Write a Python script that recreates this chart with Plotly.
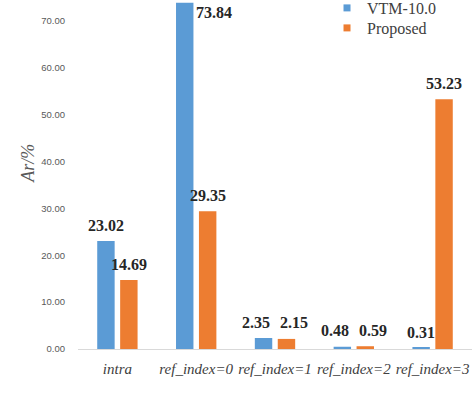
import plotly.graph_objects as go

categories = ["intra", "ref_index=0", "ref_index=1", "ref_index=2", "ref_index=3"]
vtm_values = [23.02, 73.84, 2.35, 0.48, 0.31]
proposed_values = [14.69, 29.35, 2.15, 0.59, 53.23]
series_names = ["VTM-10.0", "Proposed"]
y_ticks = [0, 10, 20, 30, 40, 50, 60, 70]
y_tick_labels = ["0.00", "10.00", "20.00", "30.00", "40.00", "50.00", "60.00", "70.00"]
y_title = "Ar/%"

BLUE = "#5B9BD5"
ORANGE = "#ED7D31"
Y_MAX = 74.4
PLOT_H = 349
PLOT_W = 395
SERIF = "Liberation Serif, Times New Roman, serif"
LABEL_FONT = dict(family=SERIF, size=16, color="#262626", weight="bold")

fig = go.Figure()
fig.add_trace(go.Bar(x=categories, y=vtm_values, name=series_names[0], showlegend=False,
                     marker=dict(color=BLUE, line=dict(width=0))))
fig.add_trace(go.Bar(x=categories, y=proposed_values, name=series_names[1], showlegend=False,
                     marker=dict(color=ORANGE, line=dict(width=0))))
# legend entries with small square swatches
fig.add_trace(go.Scatter(x=[None], y=[None], mode="markers", name=series_names[0],
                         marker=dict(symbol="square", size=7, color=BLUE), legend="legend"))
fig.add_trace(go.Scatter(x=[None], y=[None], mode="markers", name=series_names[1],
                         marker=dict(symbol="square", size=7, color=ORANGE), legend="legend2"))

px_per_unit = PLOT_H / Y_MAX
annotations = []
for cat, vb, vo in zip(categories, vtm_values, proposed_values):
    close = abs(vb - vo) * px_per_unit < 18
    for v, sign in ((vb, -1), (vo, 1)):
        if v > Y_MAX - 5:
            annotations.append(dict(x=cat, y=v, text=f"{v:.2f}", showarrow=False,
                                    xanchor="left", yanchor="middle",
                                    xshift=sign * 11.5 + 9, yshift=-10, font=LABEL_FONT))
        else:
            yv = max(vb, vo) if close else v
            shift = sign * 19 if close else sign * 11.5
            annotations.append(dict(x=cat, y=yv, text=f"{v:.2f}", showarrow=False,
                                    xanchor="center", yanchor="bottom",
                                    xshift=shift, yshift=5, font=LABEL_FONT))

annotations.append(dict(xref="paper", yref="paper", x=(27 - 77.5) / PLOT_W, y=1 - 163 / PLOT_H,
                        text=y_title, textangle=-90, showarrow=False,
                        xanchor="center", yanchor="middle",
                        font=dict(family=SERIF, size=18, color="#595959", style="italic")))

legend_common = dict(x=0.632, xanchor="left", yanchor="middle",
                     font=dict(family=SERIF, size=16, color="#404040"),
                     bgcolor="rgba(0,0,0,0)", itemwidth=30)

fig.update_layout(
    width=474, height=399,
    margin=dict(l=77.5, r=1.5, t=0, b=50, autoexpand=False),
    paper_bgcolor="white", plot_bgcolor="white",
    barmode="group", bargap=0.418, bargroupgap=0.24,
    showlegend=True,
    legend=dict(y=1 - 8 / PLOT_H, **legend_common),
    legend2=dict(y=1 - 28 / PLOT_H, **legend_common),
    annotations=annotations,
    xaxis=dict(showgrid=False, showline=True, linecolor="#D9D9D9", linewidth=1,
               ticks="", ticklabelstandoff=6,
               tickfont=dict(family=SERIF, size=15, color="#404040", style="italic")),
    yaxis=dict(range=[0, Y_MAX], showgrid=False, showline=False, zeroline=False,
               tickvals=y_ticks, ticktext=y_tick_labels, ticks="",
               ticklabelstandoff=12,
               tickfont=dict(family="Liberation Sans, Arial, sans-serif", size=9.5, color="#595959")),
)

fig.write_html("out.html", config={"displayModeBar": False},
               post_script="document.body.style.margin='0';")
